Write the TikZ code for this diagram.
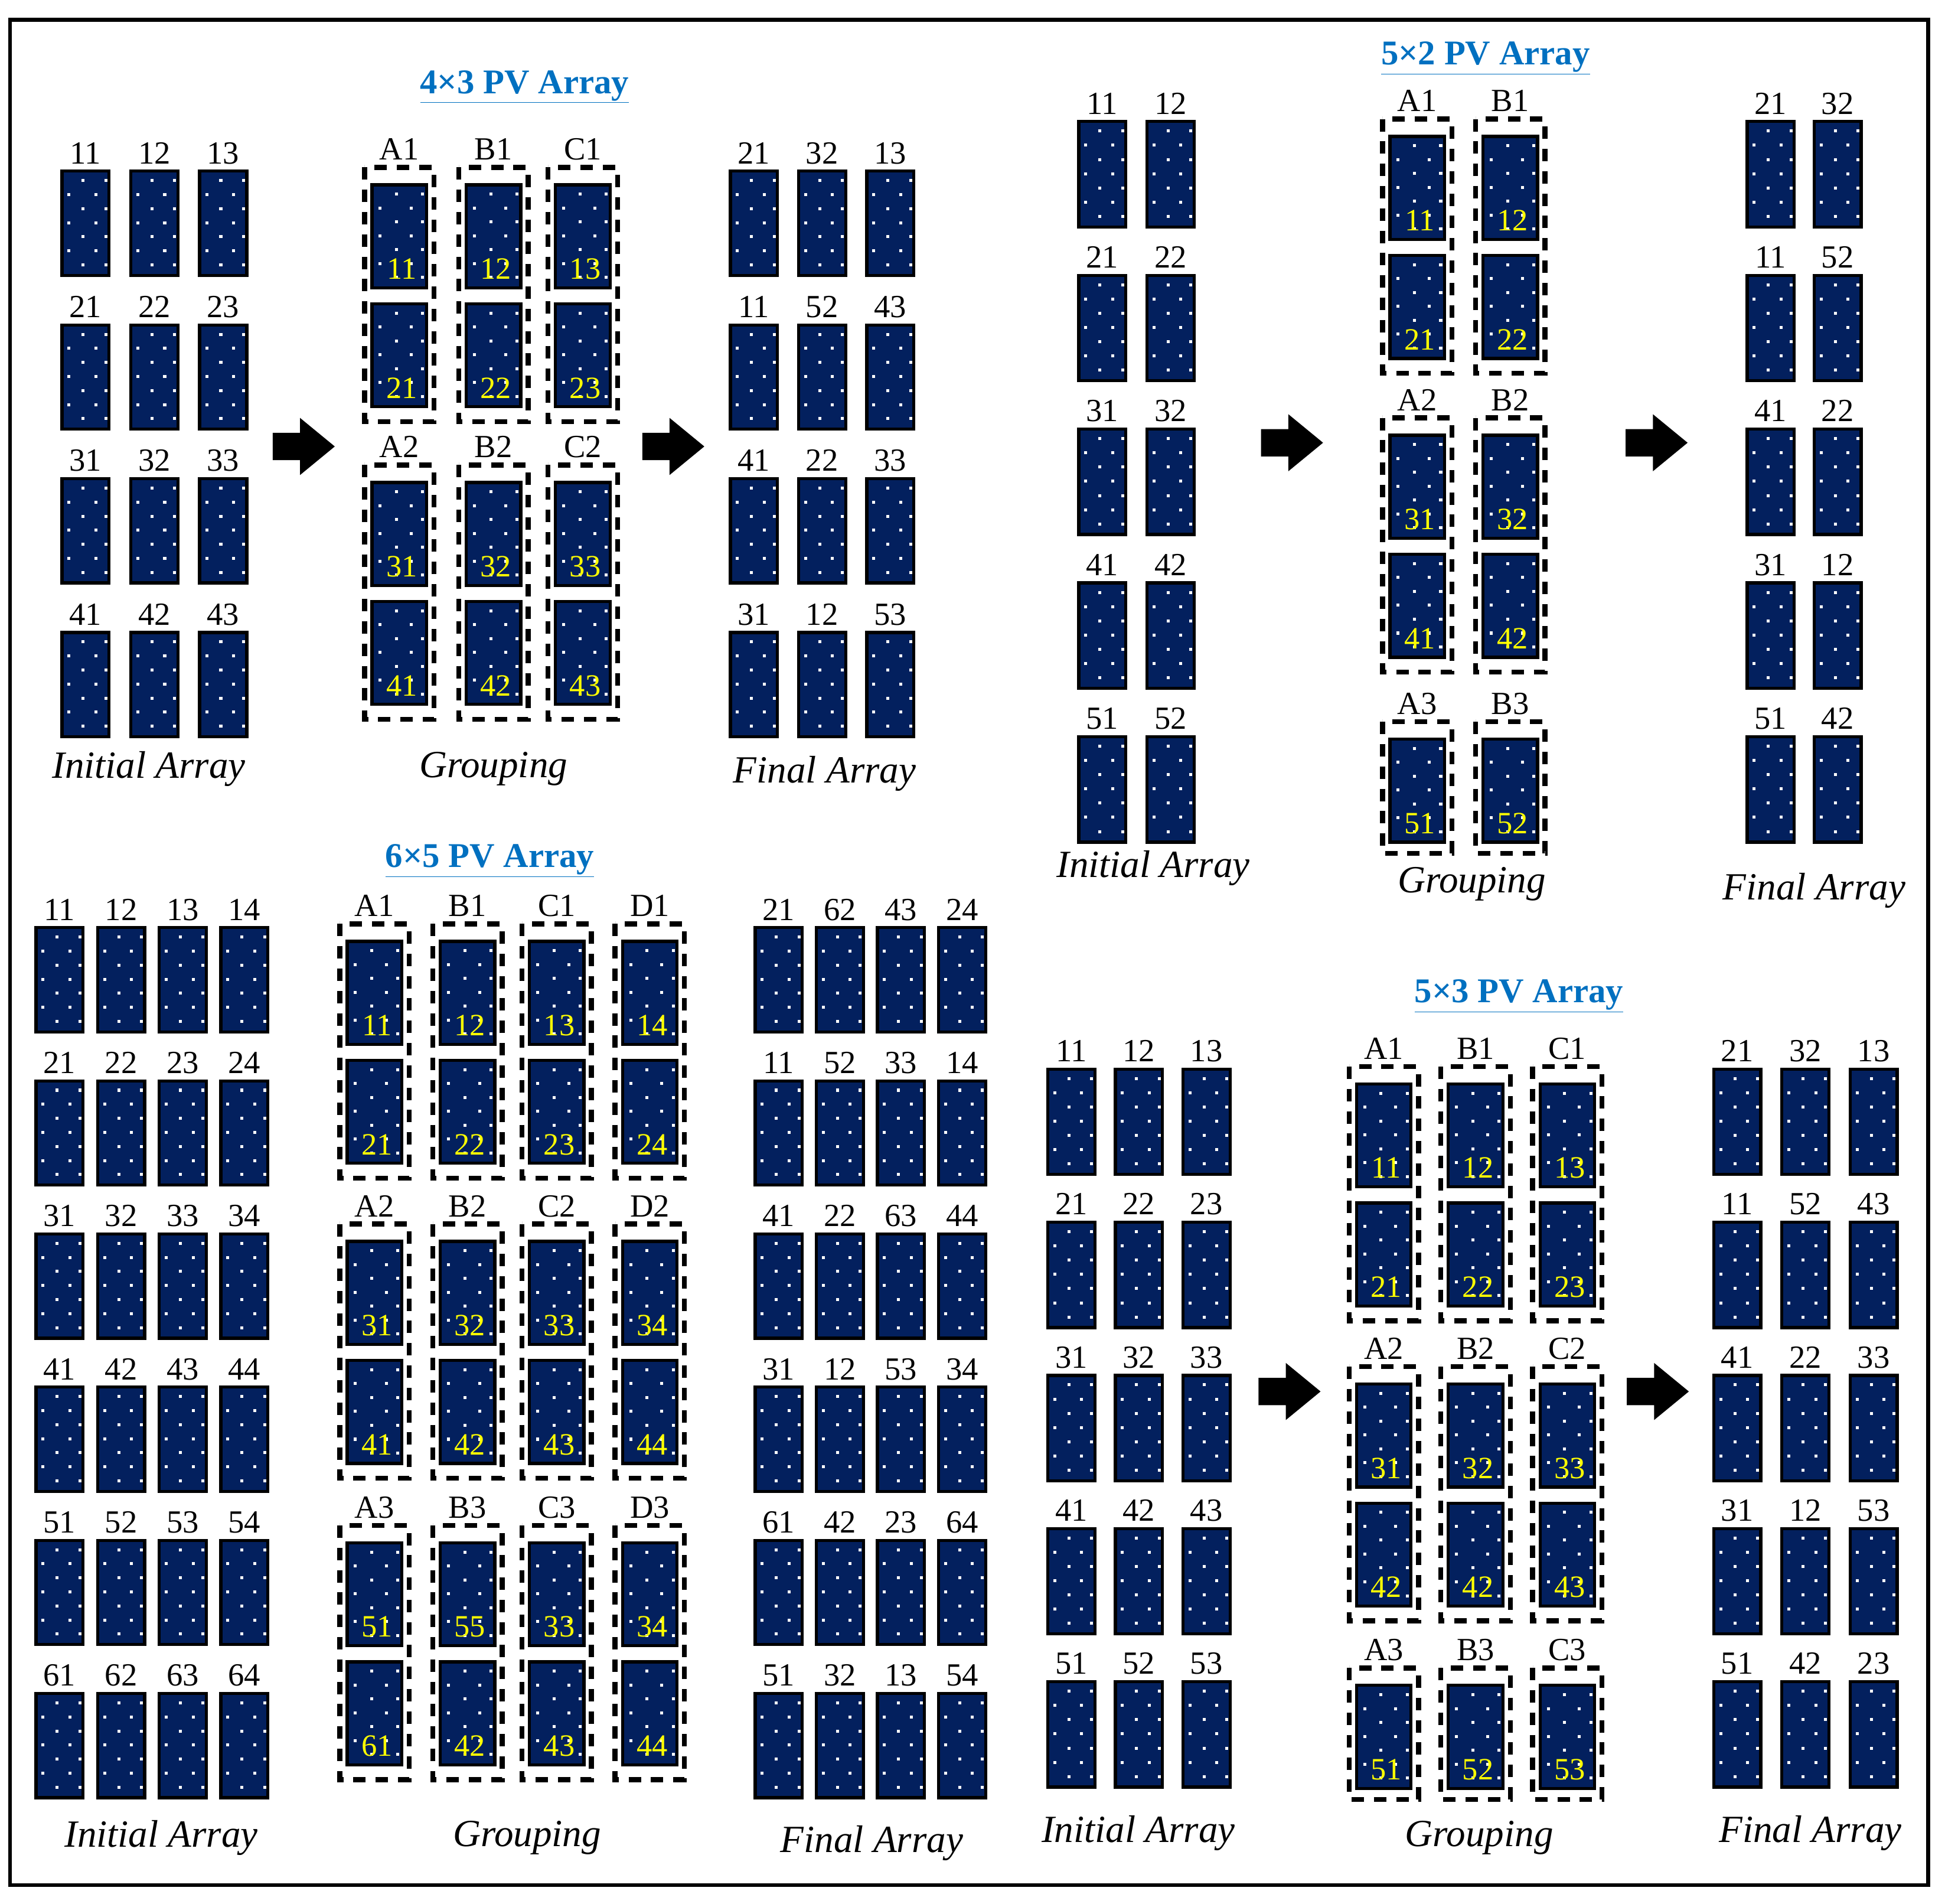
\documentclass[tikz,border=0pt]{standalone}
\usepackage{fontspec}
\setmainfont{Liberation Serif}
\definecolor{navy}{RGB}{3,32,94}
\definecolor{ttl}{RGB}{0,112,192}
\definecolor{yel}{RGB}{255,255,0}
\newcommand\pvp[4]{% cx ytop w h
 \filldraw[fill=navy,draw=black,line width=2.5pt] ({#1-#3/2},#2) rectangle ({#1+#3/2},{#2+#4});
 \foreach \r in {0,...,6}{%
  \pgfmathsetmacro\yy{#2+#4*(0.09+0.135*\r)}%
  \ifodd\r
   \fill[white] ({#1-#3/2+0.15*#3-1.2},\yy-1.2) rectangle ++(2.4,2.4);
   \fill[white] ({#1-#3/2+0.72*#3-1.2},\yy-1.2) rectangle ++(2.4,2.4);
  \else
   \fill[white] ({#1-#3/2+0.45*#3-1.2},\yy-1.2) rectangle ++(2.4,2.4);
   \fill[white] ({#1-#3/2+0.93*#3-1.2},\yy-1.2) rectangle ++(2.4,2.4);
  \fi}}
\newcommand\arr[7]{% x0 dx ncol y0 dy h labels
 \foreach \lab [count=\i from 0] in {#7}{%
  \pgfmathtruncatemacro\cc{mod(\i,#3)}\pgfmathtruncatemacro\rr{div(\i,#3)}%
  \pgfmathsetmacro\xx{#1+\cc*#2}\pgfmathsetmacro\yt{#4+\rr*#5}%
  \pvp{\xx}{\yt}{38}{#6}
  \node[lbl] at (\xx,\yt-6) {\lab};}}
\newcommand\grp[5]{% cx boxtop label n1 n2(empty for single)
 \node[lbl] at (#1,#2-6) {#3};
 \pvp{#1}{#2+14}{44}{83}\node[ylb] at (#1+2,#2+14+76) {#4};
 \if\relax\detokenize{#5}\relax
  \draw[dbox] (#1-28,#2) rectangle (#1+28,#2+106);
 \else
  \pvp{#1}{#2+110}{44}{83}\node[ylb] at (#1+2,#2+110+76) {#5};
  \draw[dbox] (#1-28,#2) rectangle (#1+28,#2+205);
 \fi}
\newcommand\barrow[2]{\fill (#1-25,#2-11) -- (#1-3,#2-11) -- (#1-3,#2-23) -- (#1+25,#2) -- (#1-3,#2+23) -- (#1-3,#2+11) -- (#1-25,#2+11) -- cycle;}
\begin{document}
\begin{tikzpicture}[x=1pt,y=-1pt,
 lbl/.style={anchor=base,font=\fontsize{26}{26}\selectfont,inner sep=0pt},
 ylb/.style={anchor=base,text=yel,font=\fontsize{25}{25}\selectfont,inner sep=0pt},
 captext/.style={font=\itshape\fontsize{31}{31}\selectfont},
 ttlst/.style={text=ttl,font=\bfseries\fontsize{28}{28}\selectfont},
 dbox/.style={line width=4pt,dash pattern=on 10pt off 8pt}]
\useasboundingbox (0,0) rectangle (1568.6,1535.2);
\draw[line width=3pt] (8,16) rectangle (1555,1520);
% ---- 4x3
\node[ttlst] at (423,70) {\underline{4×3 PV Array}};
\arr{69}{55.5}{3}{138}{124}{84}{11,12,13,21,22,23,31,32,33,41,42,43}
\node[captext] at (120,620) {Initial Array};
\barrow{245}{360}
\grp{322}{135}{A1}{11}{21}\grp{398}{135}{B1}{12}{22}\grp{470}{135}{C1}{13}{23}
\grp{322}{375}{A2}{31}{41}\grp{398}{375}{B2}{32}{42}\grp{470}{375}{C2}{33}{43}
\node[captext] at (398,620) {Grouping};
\barrow{543}{360}
\arr{608}{55}{3}{138}{124}{84}{21,32,13,11,52,43,41,22,33,31,12,53}
\node[captext] at (665,624) {Final Array};
% ---- 5x2
\node[ttlst] at (1198,47) {\underline{5×2 PV Array}};
\arr{889}{55}{2}{98}{124}{85}{11,12,21,22,31,32,41,42,51,52}
\node[captext] at (930,700) {Initial Array};
\barrow{1042}{357}
\grp{1143}{96}{A1}{11}{21}\grp{1218}{96}{B1}{12}{22}
\grp{1143}{337}{A2}{31}{41}\grp{1218}{337}{B2}{32}{42}
\grp{1143}{582}{A3}{51}{}\grp{1218}{582}{B3}{52}{}
\node[captext] at (1187,713) {Grouping};
\barrow{1336}{357}
\arr{1428}{54}{2}{98}{124}{85}{21,32,11,52,41,22,31,12,51,42}
\node[captext] at (1463,718) {Final Array};
% ---- 6x5
\node[ttlst] at (395,694) {\underline{6×5 PV Array}};
\arr{48}{49.7}{4}{748}{123.5}{84}{11,12,13,14,21,22,23,24,31,32,33,34,41,42,43,44,51,52,53,54,61,62,63,64}
\node[captext] at (130,1482) {Initial Array};
\grp{302}{745}{A1}{11}{21}\grp{377}{745}{B1}{12}{22}\grp{449}{745}{C1}{13}{23}\grp{524}{745}{D1}{14}{24}
\grp{302}{987}{A2}{31}{41}\grp{377}{987}{B2}{32}{42}\grp{449}{987}{C2}{33}{43}\grp{524}{987}{D2}{34}{44}
\grp{302}{1230}{A3}{51}{61}\grp{377}{1230}{B3}{55}{42}\grp{449}{1230}{C3}{33}{43}\grp{524}{1230}{D3}{34}{44}
\node[captext] at (425,1482) {Grouping};
\arr{628}{49.3}{4}{748}{123.5}{84}{21,62,43,24,11,52,33,14,41,22,63,44,31,12,53,34,61,42,23,64,51,32,13,54}
\node[captext] at (703,1486) {Final Array};
% ---- 5x3
\node[ttlst] at (1225,803) {\underline{5×3 PV Array}};
\arr{864}{54.5}{3}{862}{123.5}{85}{11,12,13,21,22,23,31,32,33,41,42,43,51,52,53}
\node[captext] at (918,1478) {Initial Array};
\barrow{1040}{1122}
\grp{1116}{860}{A1}{11}{21}\grp{1190}{860}{B1}{12}{22}\grp{1264}{860}{C1}{13}{23}
\grp{1116}{1102}{A2}{31}{42}\grp{1190}{1102}{B2}{32}{42}\grp{1264}{1102}{C2}{33}{43}
\grp{1116}{1345}{A3}{51}{}\grp{1190}{1345}{B3}{52}{}\grp{1264}{1345}{C3}{53}{}
\node[captext] at (1193,1482) {Grouping};
\barrow{1337}{1122}
\arr{1401}{55}{3}{862}{123.5}{85}{21,32,13,11,52,43,41,22,33,31,12,53,51,42,23}
\node[captext] at (1460,1478) {Final Array};
\end{tikzpicture}
\end{document}
